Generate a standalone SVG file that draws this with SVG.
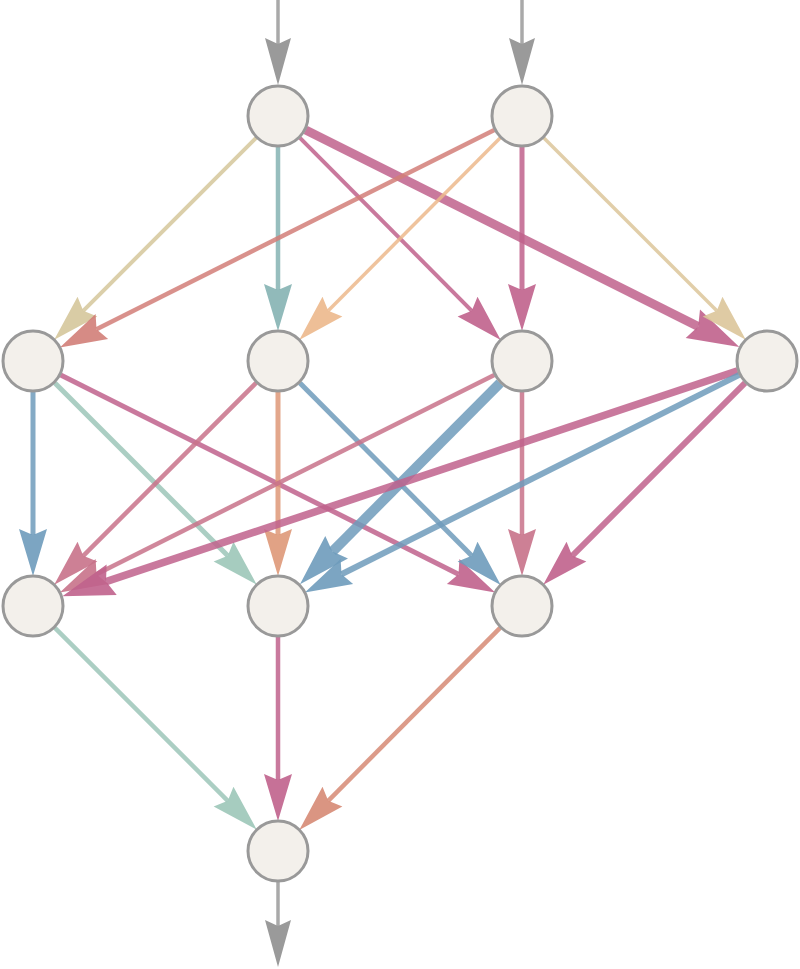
<svg xmlns="http://www.w3.org/2000/svg" width="800" height="969" viewBox="0 0 800 969">
<style>
.n{fill:#f3f0eb;stroke:#999;stroke-width:3}
.e{fill:none;stroke-opacity:0.85;stroke-linecap:butt}
.mag{stroke:#c0628c}.blue{stroke:#6e9bbb}.teal{stroke:#85b3b3}.mint{stroke:#9cc6b8}
.tan{stroke:#d5c79b}.tan2{stroke:#dcc59a}.salmon{stroke:#d27e78}.peach{stroke:#ecb88c}
.orange{stroke:#de9878}.orange2{stroke:#d68a74}.pinkl{stroke:#c87289}.gray{stroke:#9a9a9a}
</style>
<defs>
<marker id="m-mag" markerUnits="userSpaceOnUse" orient="auto" refX="0" refY="0" markerWidth="60" markerHeight="40" overflow="visible"><path d="M-6,-14 L41,0 L-6,14 L0,0 Z" fill="#c0628c" fill-opacity="0.9"/></marker>
<marker id="m-magB" markerUnits="userSpaceOnUse" orient="auto" refX="0" refY="0" markerWidth="60" markerHeight="40" overflow="visible"><path d="M-6,-16 L46,0 L-6,16 L0,0 Z" fill="#c0628c" fill-opacity="0.9"/></marker>
<marker id="m-blue" markerUnits="userSpaceOnUse" orient="auto" refX="0" refY="0" markerWidth="60" markerHeight="40" overflow="visible"><path d="M-6,-14 L41,0 L-6,14 L0,0 Z" fill="#6e9bbb" fill-opacity="0.9"/></marker>
<marker id="m-blueB" markerUnits="userSpaceOnUse" orient="auto" refX="0" refY="0" markerWidth="60" markerHeight="40" overflow="visible"><path d="M-6,-16 L46,0 L-6,16 L0,0 Z" fill="#6e9bbb" fill-opacity="0.9"/></marker>
<marker id="m-teal" markerUnits="userSpaceOnUse" orient="auto" refX="0" refY="0" markerWidth="60" markerHeight="40" overflow="visible"><path d="M-6,-14 L41,0 L-6,14 L0,0 Z" fill="#85b3b3" fill-opacity="0.9"/></marker>
<marker id="m-mint" markerUnits="userSpaceOnUse" orient="auto" refX="0" refY="0" markerWidth="60" markerHeight="40" overflow="visible"><path d="M-6,-14 L41,0 L-6,14 L0,0 Z" fill="#9cc6b8" fill-opacity="0.9"/></marker>
<marker id="m-tan" markerUnits="userSpaceOnUse" orient="auto" refX="0" refY="0" markerWidth="60" markerHeight="40" overflow="visible"><path d="M-6,-14 L41,0 L-6,14 L0,0 Z" fill="#d5c79b" fill-opacity="0.9"/></marker>
<marker id="m-tan2" markerUnits="userSpaceOnUse" orient="auto" refX="0" refY="0" markerWidth="60" markerHeight="40" overflow="visible"><path d="M-6,-14 L41,0 L-6,14 L0,0 Z" fill="#dcc59a" fill-opacity="0.9"/></marker>
<marker id="m-salmon" markerUnits="userSpaceOnUse" orient="auto" refX="0" refY="0" markerWidth="60" markerHeight="40" overflow="visible"><path d="M-6,-14 L41,0 L-6,14 L0,0 Z" fill="#d27e78" fill-opacity="0.9"/></marker>
<marker id="m-peach" markerUnits="userSpaceOnUse" orient="auto" refX="0" refY="0" markerWidth="60" markerHeight="40" overflow="visible"><path d="M-6,-14 L41,0 L-6,14 L0,0 Z" fill="#ecb88c" fill-opacity="0.9"/></marker>
<marker id="m-orange" markerUnits="userSpaceOnUse" orient="auto" refX="0" refY="0" markerWidth="60" markerHeight="40" overflow="visible"><path d="M-6,-14 L41,0 L-6,14 L0,0 Z" fill="#de9878" fill-opacity="0.9"/></marker>
<marker id="m-orange2" markerUnits="userSpaceOnUse" orient="auto" refX="0" refY="0" markerWidth="60" markerHeight="40" overflow="visible"><path d="M-6,-14 L41,0 L-6,14 L0,0 Z" fill="#d68a74" fill-opacity="0.9"/></marker>
<marker id="m-pinkl" markerUnits="userSpaceOnUse" orient="auto" refX="0" refY="0" markerWidth="60" markerHeight="40" overflow="visible"><path d="M-6,-14 L41,0 L-6,14 L0,0 Z" fill="#c87289" fill-opacity="0.9"/></marker>
<marker id="m-gray" markerUnits="userSpaceOnUse" orient="auto" refX="0" refY="0" markerWidth="60" markerHeight="40" overflow="visible"><path d="M-6,-13 L41,0 L-6,13 L0,0 Z" fill="#9a9a9a"/></marker>
</defs>
<g id="connectors">
<line class="e gray" x1="278" y1="0" x2="278" y2="44" stroke-width="3.5" marker-end="url(#m-gray)"/>
<line class="e gray" x1="522" y1="0" x2="522" y2="44" stroke-width="3.5" marker-end="url(#m-gray)"/>
<line class="e gray" x1="278" y1="882" x2="278" y2="926" stroke-width="3.5" marker-end="url(#m-gray)"/>
<line class="e tan" x1="256.1" y1="137.9" x2="83.2" y2="310.8" stroke-width="4" marker-end="url(#m-tan)"/>
<line class="e teal" x1="278" y1="147" x2="278" y2="290" stroke-width="4.5" marker-end="url(#m-teal)"/>
<line class="e mag" x1="299.9" y1="137.9" x2="471.8" y2="310.8" stroke-width="4" marker-end="url(#m-mag)"/>
<line class="e mag" x1="305.7" y1="129.9" x2="698.2" y2="326.5" stroke-width="9" marker-end="url(#m-magB)"/>
<line class="e salmon" x1="494.3" y1="129.9" x2="96.5" y2="329.2" stroke-width="4.5" marker-end="url(#m-salmon)"/>
<line class="e peach" x1="500.1" y1="137.9" x2="328.2" y2="310.8" stroke-width="3.5" marker-end="url(#m-peach)"/>
<line class="e mag" x1="522" y1="147" x2="522" y2="290" stroke-width="5" marker-end="url(#m-mag)"/>
<line class="e tan2" x1="543.9" y1="137.9" x2="716.8" y2="310.8" stroke-width="3.5" marker-end="url(#m-tan2)"/>
<line class="e blue" x1="33" y1="392" x2="33" y2="535" stroke-width="5" marker-end="url(#m-blue)"/>
<line class="e mint" x1="54.9" y1="382.9" x2="227.8" y2="555.8" stroke-width="5" marker-end="url(#m-mint)"/>
<line class="e mag" x1="60.7" y1="374.9" x2="458.5" y2="574.2" stroke-width="5" marker-end="url(#m-mag)"/>
<line class="e pinkl" x1="256.1" y1="382.9" x2="83.2" y2="555.8" stroke-width="4.5" marker-end="url(#m-pinkl)"/>
<line class="e orange" x1="278" y1="392" x2="278" y2="535" stroke-width="5" marker-end="url(#m-orange)"/>
<line class="e blue" x1="299.9" y1="382.9" x2="471.8" y2="555.8" stroke-width="5" marker-end="url(#m-blue)"/>
<line class="e pinkl" x1="494.3" y1="374.9" x2="96.5" y2="574.2" stroke-width="4.5" marker-end="url(#m-pinkl)"/>
<line class="e blue" x1="500.1" y1="382.9" x2="332.4" y2="551.6" stroke-width="10" marker-end="url(#m-blueB)"/>
<line class="e pinkl" x1="522" y1="392" x2="522" y2="535" stroke-width="4.5" marker-end="url(#m-pinkl)"/>
<line class="e mag" x1="737.6" y1="370.8" x2="106.0" y2="581.6" stroke-width="7.5" marker-end="url(#m-magB)"/>
<line class="e blue" x1="739.3" y1="374.9" x2="341.5" y2="574.2" stroke-width="6" marker-end="url(#m-blue)"/>
<line class="e mag" x1="745.1" y1="382.9" x2="572.2" y2="555.8" stroke-width="6" marker-end="url(#m-mag)"/>
<line class="e mint" x1="54.9" y1="627.9" x2="227.8" y2="800.8" stroke-width="4.5" marker-end="url(#m-mint)"/>
<line class="e mag" x1="278" y1="637" x2="278" y2="780" stroke-width="4.5" marker-end="url(#m-mag)"/>
<line class="e orange2" x1="500.1" y1="627.9" x2="328.2" y2="800.8" stroke-width="4.5" marker-end="url(#m-orange2)"/>
</g>
<g id="A"><circle class="n" cx="278" cy="116" r="30"/></g>
<g id="B"><circle class="n" cx="522" cy="116" r="30"/></g>
<g id="D"><circle class="n" cx="33" cy="361" r="30"/></g>
<g id="E"><circle class="n" cx="278" cy="361" r="30"/></g>
<g id="F"><circle class="n" cx="522" cy="361" r="30"/></g>
<g id="G"><circle class="n" cx="767" cy="361" r="30"/></g>
<g id="H"><circle class="n" cx="33" cy="606" r="30"/></g>
<g id="I"><circle class="n" cx="278" cy="606" r="30"/></g>
<g id="J"><circle class="n" cx="522" cy="606" r="30"/></g>
<g id="K"><circle class="n" cx="278" cy="851" r="30"/></g>
</svg>
